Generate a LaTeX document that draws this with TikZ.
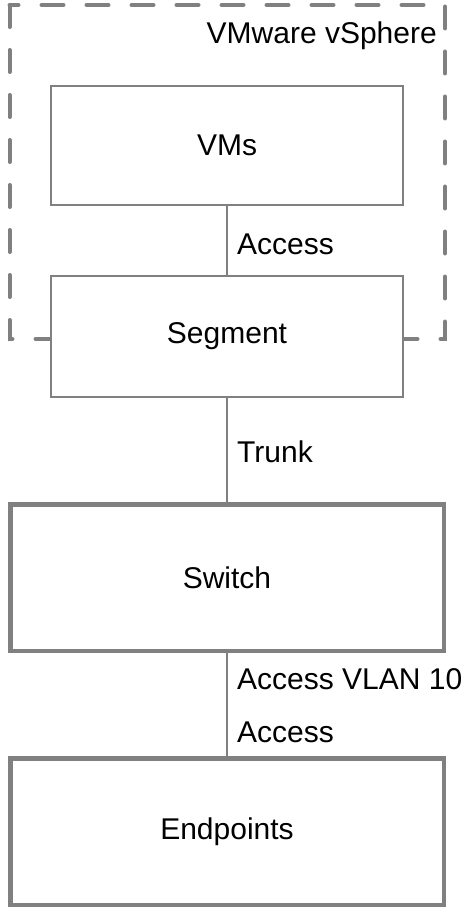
\documentclass[tikz,border=0pt]{standalone}
\usepackage{fontspec}
\setmainfont{Liberation Sans}
\usetikzlibrary{shadows}
\definecolor{edgegray}{HTML}{808080}
\tikzset{
  thinbox/.style={draw=edgegray, line width=1.5pt, fill=white, rectangle, inner sep=0pt,
    minimum width=352pt},
  thickbox/.style={draw=edgegray, line width=4.5pt, fill=white, rectangle, inner sep=0pt,
    minimum width=433.5pt, minimum height=146.5pt,
    drop shadow={shadow xshift=0.8pt, shadow yshift=-2pt, opacity=0.35, fill=black!60}},
  conn/.style={draw=edgegray, line width=1.2pt},
  lbl/.style={anchor=base west, inner sep=0pt},
  frame/.style={draw=edgegray, line width=4pt, dash pattern=on 22pt off 23pt, line cap=round}
}
\begin{document}
\begin{tikzpicture}[x=1pt,y=-1pt,font=\fontsize{30}{36}\selectfont]
\useasboundingbox (0,0) rectangle (474,920);
% dashed container
\coordinate (fa) at (9.5,5);
\coordinate (fb) at (445,339);
\draw[frame] (fa) rectangle (fb);
\node[lbl, anchor=base east] (vs) at (437,44) {VMware vSphere};
% boxes
\node[thinbox, minimum height=119pt] (vms) at (227,145.5) {VMs};
\node[thinbox, minimum height=121pt] (seg) at (227,336.5) {Segment};
\node[thickbox] (sw) at (227,577.5) {Switch};
\node[thickbox] (ep) at (227,831.5) {Endpoints};
% connectors
\draw[conn] (vms.south) -- (seg.north);
\draw[conn] (seg.south) -- (sw.north);
\draw[conn] (sw.south) -- (ep.north);
% labels
\node[lbl] (l1) at (237,254) {Access};
\node[lbl] (l2) at (237,462) {Trunk};
\node[lbl] (l3) at (237,689) {Access VLAN 10};
\node[lbl] (l4) at (237,742) {Access};
\end{tikzpicture}
\end{document}
